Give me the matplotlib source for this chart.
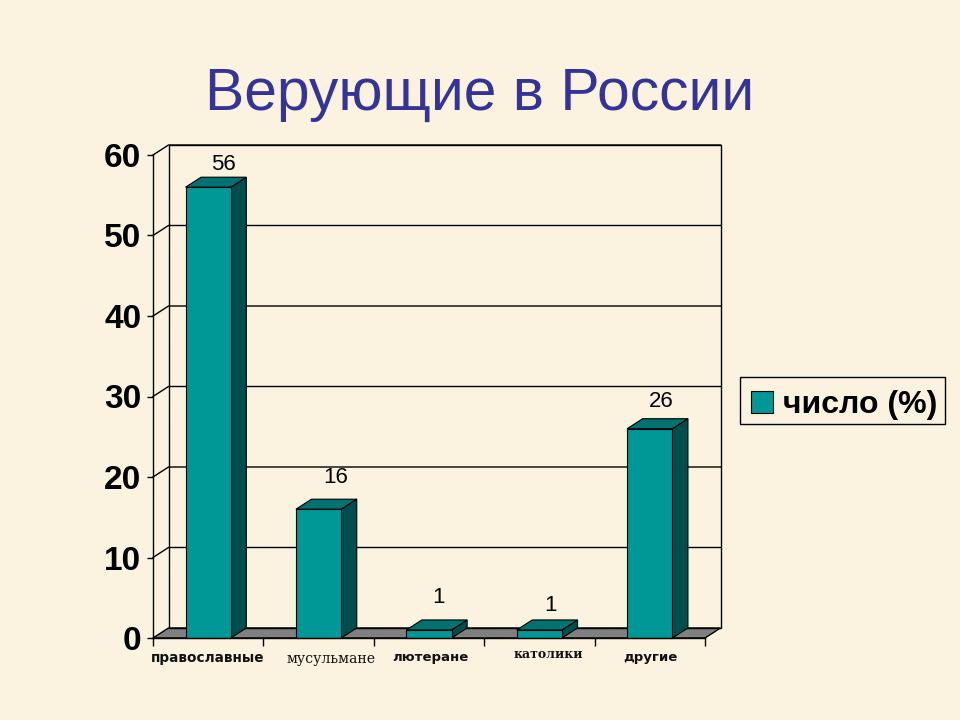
import matplotlib
matplotlib.use("Agg")
import matplotlib.pyplot as plt
from matplotlib.patches import Polygon, Patch, Rectangle
from matplotlib.lines import Line2D

categories = ["православные", "мусульмане", "лютеране", "католики", "другие"]
values = [56, 16, 1, 1, 26]
yticks = [0, 10, 20, 30, 40, 50, 60]
series_name = "число (%)"
title = "Верующие в России"

BG = "#FBF3DF"
FRONT, SIDE, TOP = "#009797", "#004D4D", "#007272"
FLOOR = "#808080"
SANS = "Liberation Sans"

W, H = 960, 720
fig = plt.figure(figsize=(W / 100, H / 100), dpi=100, facecolor=BG)
L, R, T, B = 153, 705, 155, 638
ax = fig.add_axes([L / W, 1 - B / H, (R - L) / W, (B - T) / H])
ax.set_xlim(0, len(categories))
ax.set_ylim(0, 60)
ax.patch.set_alpha(0)

dx = 15.5 / ((R - L) / len(categories))   # depth in x-units
dy = 10 / ((B - T) / 60)                  # depth in y-units
n = len(categories)
ymax = yticks[-1]

# floor, back wall, depth lines
ax.add_patch(Polygon([(0, 0), (dx, dy), (n + dx, dy), (n, 0)], fc=FLOOR, ec="black", lw=1, clip_on=False, zorder=1))
ax.add_patch(Polygon([(dx, dy), (dx, ymax + dy), (n + dx, ymax + dy), (n + dx, dy)], fc="none", ec="black", lw=1, clip_on=False, zorder=1))
for t in yticks[1:]:
    ax.add_line(Line2D([0, dx, n + dx], [t, t + dy, t + dy], color="black", lw=1, clip_on=False, zorder=1))

# bars
xs = [i + 0.5 for i in range(n)]
bw = 0.41
ax.bar(xs, values, width=bw, color=FRONT, edgecolor="black", linewidth=0.8, zorder=3, clip_on=False)
for x, v in zip(xs, values):
    l, r = x - bw / 2, x + bw / 2
    ax.add_patch(Polygon([(r, 0), (r + dx, dy), (r + dx, v + dy), (r, v)], fc=SIDE, ec="black", lw=0.8, zorder=2.5, clip_on=False))
    ax.add_patch(Polygon([(l, v), (l + dx, v + dy), (r + dx, v + dy), (r, v)], fc=TOP, ec="black", lw=0.8, zorder=2.5, clip_on=False))

# value labels
label_offsets = [(15, 23), (17, 32), (10, 32), (11, 24), (11, 27)]
for x, v, off in zip(xs, values, label_offsets):
    ax.annotate(str(v), (x, v), xytext=(off[0] * 0.72, off[1] * 0.72), textcoords="offset points",
                ha="center", va="center", family=SANS, fontsize=16, color="black", zorder=5)

# axes
for s in ["top", "right"]:
    ax.spines[s].set_visible(False)
for s in ["left", "bottom"]:
    ax.spines[s].set_linewidth(1)
    ax.spines[s].set_zorder(4)
ax.set_yticks(yticks)
ax.set_yticklabels([str(t) for t in yticks], family=SANS, fontweight="bold", fontsize=24)
ax.tick_params(axis="y", length=4.5, width=1, pad=4)
ax.set_xticks(range(n + 1))
ax.set_xticklabels([])
ax.tick_params(axis="x", length=6, width=1)

# category labels (each one placed and styled as in the source)
label_styles = [
    dict(family="DejaVu Sans", fontweight="bold", fontsize=9.8),
    dict(family="DejaVu Serif", fontweight="normal", fontsize=10.2),
    dict(family="DejaVu Sans", fontweight="bold", fontsize=9.5),
    dict(family="DejaVu Serif", fontweight="bold", fontsize=9.0),
    dict(family="DejaVu Sans", fontweight="bold", fontsize=9.5),
]
label_px = [(208, 658), (331, 659), (430, 658), (548, 655), (650, 658)]
for name, st, (px, py) in zip(categories, label_styles, label_px):
    fig.text(px / W, 1 - py / H, name, ha="center", va="center", color="#111111", **st)

fig.text(480 / W, 1 - 94 / H, title, ha="center", va="center", family=SANS, fontsize=42.3, color="#333399")

# legend: contents sit low inside the frame, so the frame is drawn apart
fig.add_artist(Rectangle((740 / W, 1 - 424 / H), 205 / W, 47 / H, transform=fig.transFigure,
                         fc="none", ec="black", lw=1))
fig.legend(handles=[Patch(fc=FRONT, ec="black", lw=0.8, label=series_name)],
           loc="center", bbox_to_anchor=(844.5 / W, 1 - 405 / H), bbox_transform=fig.transFigure,
           frameon=False, borderpad=0.27,
           handlelength=0.69, handleheight=0.69, handletextpad=0.31,
           prop=dict(family=SANS, weight="bold", size=23))

fig.savefig("out.png", dpi=100, facecolor=BG)
